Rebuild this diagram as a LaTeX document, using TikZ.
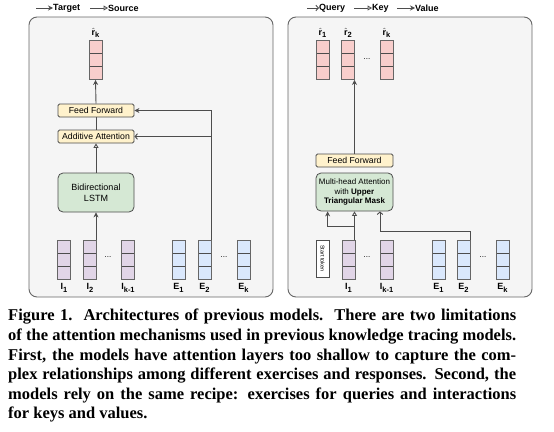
\documentclass[tikz,border=0pt]{standalone}
\usepackage{fontspec}
\setmainfont{Liberation Serif}
\setsansfont{Liberation Sans}
\usetikzlibrary{arrows.meta,positioning}
\definecolor{kpanel}{HTML}{F5F5F5}
\definecolor{kedge}{HTML}{666666}
\definecolor{kline}{HTML}{4D4D4D}
\definecolor{kyellow}{HTML}{FFF2CC}
\definecolor{kgreen}{HTML}{D5E8D4}
\definecolor{kpink}{HTML}{F8CECC}
\definecolor{kpurple}{HTML}{E1D5E7}
\definecolor{kblue}{HTML}{DAE8FC}

\newcommand\vlab[2]{#1\raisebox{-2.5pt}{\fontsize{7.5}{8}\selectfont#2}}
\newcommand\rlab[1]{\ensuremath{\hat{\mbox{r}}}\raisebox{-2.5pt}{\fontsize{7.5}{8}\selectfont#1}}

\tikzset{
  panel/.style={draw=kedge, line width=0.9pt, fill=kpanel, rounded corners=8pt},
  vecbox/.style={draw=kedge, line width=0.9pt, minimum width=13pt, minimum height=39pt, inner sep=0pt,
    path picture={\foreach \yy in {-6.5,6.5}
      \draw[kline, line width=1pt] ([yshift=\yy pt]path picture bounding box.west) -- ([yshift=\yy pt]path picture bounding box.east);}},
  ffbox/.style={draw=kline, line width=0.8pt, fill=kyellow, rounded corners=1.5pt, minimum width=76pt, minimum height=13pt, inner sep=0pt, font=\sffamily\fontsize{8.7}{10}\selectfont},
  attbox/.style={draw=kline, line width=0.8pt, fill=kgreen, rounded corners=5pt, minimum width=76pt, minimum height=39pt, inner sep=1pt, align=center},
  vlabel/.style={font=\sffamily\bfseries\fontsize{9}{10}\selectfont, inner sep=0pt},
  legend/.style={font=\sffamily\bfseries\fontsize{9}{10}\selectfont, inner sep=0pt, anchor=west},
  dots/.style={font=\sffamily\fontsize{8}{8}\selectfont, inner sep=0pt},
  conn/.style={draw=kline, line width=0.9pt},
  tgt/.style={conn, -{Stealth[length=5pt, width=5pt]}},
  src/.style={conn, -{Triangle[fill=white, length=4.5pt, width=5pt]}},
  qry/.style={conn, -{Straight Barb[length=2.5pt, width=5.5pt]}},
}

\begin{document}
\begin{tikzpicture}[x=1pt, y=-1pt]
  \useasboundingbox (0,0) rectangle (554,431);

  % legends
  \coordinate (lgA) at (36,8);
  \node[legend] (lgTarget) at (53,8) {Target};
  \draw[tgt] (lgA) -- (lgTarget.west);
  \coordinate (lgB) at (90,8);
  \node[legend] (lgSource) at (108,8) {Source};
  \draw[src] (lgB) -- (lgSource.west);

  \coordinate (lgC) at (307,8);
  \node[legend] (lgQuery) at (319,8) {Query};
  \draw[qry] (lgC) -- (lgQuery.west);
  \coordinate (lgD) at (354,8);
  \node[legend] (lgKey) at (372,8) {Key};
  \draw[src] (lgD) -- (lgKey.west);
  \coordinate (lgE) at (397,8);
  \node[legend] (lgValue) at (415,8) {Value};
  \draw[tgt] (lgE) -- (lgValue.west);

  % panels
  \path[panel] (29,17) rectangle (273,297);
  \path[panel] (288,17) rectangle (532,297);

  % left model
  \node[vecbox, fill=kpink] (rkL) at (95.5,60) {};
  \node[vlabel, above=2pt of rkL] {\rlab{k}};
  \node[ffbox] (ffL) at (96,110.5) {Feed Forward};
  \node[ffbox] (aaL) at (96,136.5) {Additive Attention};
  \node[attbox, font=\sffamily\fontsize{9}{11}\selectfont] (lstm) at (96,192.5) {Bidirectional\\LSTM};

  \node[vecbox, fill=kpurple] (i1L) at (64,259.5) {};
  \node[vecbox, fill=kpurple] (i2L) at (90,259.5) {};
  \node[dots] (dotsIL) at (108,257) {...};
  \node[vecbox, fill=kpurple] (ik1L) at (128,259.5) {};
  \node[vecbox, fill=kblue] (e1L) at (178.5,259.5) {};
  \node[vecbox, fill=kblue] (e2L) at (204.5,259.5) {};
  \node[dots] (dotsEL) at (224,257) {...};
  \node[vecbox, fill=kblue] (ekL) at (243.5,259.5) {};

  \node[vlabel, below=4pt of i1L] {\vlab{I}{1}};
  \node[vlabel, below=4pt of i2L] {\vlab{I}{2}};
  \node[vlabel, below=4pt of ik1L] {\vlab{I}{k-1}};
  \node[vlabel, below=4pt of e1L] {\vlab{E}{1}};
  \node[vlabel, below=4pt of e2L] {\vlab{E}{2}};
  \node[vlabel, below=4pt of ekL] {\vlab{E}{k}};

  \draw[tgt] (lstm.south |- i2L.north) -- (lstm.south);
  \draw[src] (lstm.north) -- (aaL.south);
  \draw[conn] (aaL.north) -- (ffL.south);
  \draw[tgt] (ffL.north) -- (rkL.south);
  \draw[tgt] (e2L.north east) |- (ffL.east);
  \draw[qry] (e2L.north east |- aaL.east) -- (aaL.east);

  % right model
  \node[vecbox, fill=kpink] (r1R) at (322.5,60) {};
  \node[vecbox, fill=kpink] (r2R) at (348,60) {};
  \node[dots] (dotsRR) at (367,59) {...};
  \node[vecbox, fill=kpink] (rkR) at (386.5,60) {};
  \node[vlabel, above=2pt of r1R] {\rlab{1}};
  \node[vlabel, above=2pt of r2R] {\rlab{2}};
  \node[vlabel, above=2pt of rkR] {\rlab{k}};

  \node[ffbox, minimum width=77pt] (ffR) at (354.5,160.5) {Feed Forward};
  \node[attbox, minimum width=77pt, minimum height=38pt, font=\sffamily\fontsize{8}{9.5}\selectfont] (mha) at (354.5,192)
    {Multi-head Attention\\with \textbf{Upper}\\\textbf{Triangular Mask}};

  \node[draw=kline, line width=0.6pt, fill=white, rotate=-90, minimum width=37pt, minimum height=13pt, inner sep=0pt,
    font=\sffamily\fontsize{5.5}{6}\selectfont] (start) at (322.5,258.5) {Start token};
  \node[vecbox, fill=kpurple] (i1R) at (348.5,259.5) {};
  \node[dots] (dotsIR) at (367,257) {...};
  \node[vecbox, fill=kpurple] (ik1R) at (386.5,259.5) {};
  \node[vecbox, fill=kblue] (e1R) at (438.5,259.5) {};
  \node[vecbox, fill=kblue] (e2R) at (463.5,259.5) {};
  \node[dots] (dotsER) at (483,257) {...};
  \node[vecbox, fill=kblue] (ekR) at (502.5,259.5) {};

  \node[vlabel, below=4pt of i1R] {\vlab{I}{1}};
  \node[vlabel, below=4pt of ik1R] {\vlab{I}{k-1}};
  \node[vlabel, below=4pt of e1R] {\vlab{E}{1}};
  \node[vlabel, below=4pt of e2R] {\vlab{E}{2}};
  \node[vlabel, below=4pt of ekR] {\vlab{E}{k}};

  \coordinate (brR) at (354.5,226);
  \coordinate (qR) at (380,231);
  \draw[src] (mha.south |- i1R.north) -- (mha.south);
  \draw[tgt] (brR) -| ([xshift=12pt]mha.south west);
  \draw[qry] (e2R.north east) |- (qR) -- (qR |- mha.south);
  \draw[tgt] (ffR.north) -- (ffR.north |- r2R.south);

  % caption
  \node[anchor=north west, text width=508pt, align=justify, inner sep=0pt,
    font=\bfseries\fontsize{16.5}{19.6}\selectfont] (caption) at (8,309)
    {Figure 1.\ \ Architectures of previous models.\ \ There are two limitations\linebreak
     of the attention mechanisms used in previous knowledge tracing models.\linebreak
     First, the models have attention layers too shallow to capture the com-\linebreak
     plex relationships among different exercises and responses. Second, the\linebreak
     models rely on the same recipe: exercises for queries and interactions\linebreak
     for keys and values.};
\end{tikzpicture}
\end{document}
